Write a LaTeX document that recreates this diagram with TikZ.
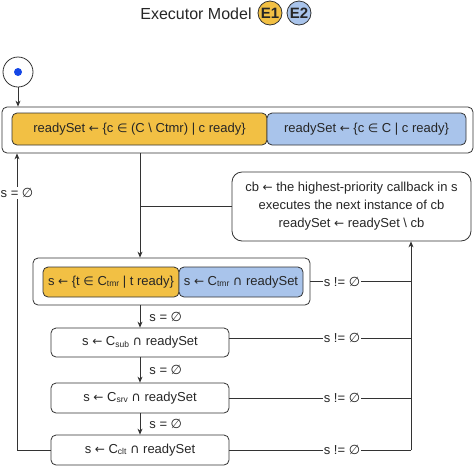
\documentclass[tikz,border=0pt]{standalone}
\usepackage{fontspec}
\setmainfont{Liberation Sans}
\newfontfamily\symf{DejaVu Sans}
\usetikzlibrary{arrows.meta}
\definecolor{yel}{HTML}{F2C044}
\definecolor{blu}{HTML}{A9C4EB}
\definecolor{edge}{HTML}{333333}
\newcommand{\EL}{{\symf\fontsize{12}{14}\selectfont ∈}}
\newcommand{\ES}{{\symf ∅}}
\newcommand{\LA}{{\symf\fontsize{12}{14}\selectfont ←}}
\newcommand{\CAP}{{\symf ∩}}
\newcommand{\sbs}[1]{\raisebox{-0.2ex}{\fontsize{8.5}{9}\selectfont #1}}
\begin{document}
\begin{tikzpicture}[x=1pt,y=-1pt,
  every node/.style={font=\fontsize{13}{15}\selectfont, text=black!85},
  box/.style={draw=edge, line width=0.8pt, rounded corners=5pt, inner sep=0pt, align=center},
  ybox/.style={box, fill=yel},
  bbox/.style={box, fill=blu},
  lbl/.style={fill=white, inner sep=1pt},
  arr/.style={draw=edge, line width=0.8pt, -{Stealth[length=6pt,width=5pt]}},
  ln/.style={draw=edge, line width=0.8pt},
  tag/.style={circle, draw=edge, line width=0.8pt, minimum size=24pt, inner sep=0pt, font=\fontsize{15}{16}\selectfont\bfseries}]
\useasboundingbox (0,0) rectangle (474,467);
% title
\node[font=\fontsize{16}{18}\selectfont] (title) at (196,14) {Executor Model};
\node[tag, fill=yel] (e1) at (270,13) {E1};
\node[tag, fill=blu] (e2) at (299,13) {E2};
% start
\node[circle, draw=edge, line width=0.8pt, minimum size=30pt, inner sep=0pt] (start) at (18,72) {};
\node[circle, fill={rgb,255:red,20;green,70;blue,230}, minimum size=8pt, inner sep=0pt] (dot) at (start.center) {};
% top box
\node[box, minimum width=471pt, minimum height=46pt] (outer) at (237.5,130) {};
\node[ybox, minimum width=255pt, minimum height=32pt] (ry) at (139.5,129) {readySet \LA\ \{c \EL\ (C \textbackslash\ Ctmr) | c ready\}};
\node[bbox, minimum width=199pt, minimum height=32pt] (rb) at (366.5,129) {readySet \LA\ \{c \EL\ C | c ready\}};
% callback box
\node[box, rounded corners=10pt, minimum width=239pt, minimum height=69pt, font=\fontsize{13}{18}\selectfont] (cb) at (351.5,206.5) {cb \LA\ the highest-priority callback in s\\executes the next instance of cb\\readySet \LA\ readySet \textbackslash\ cb};
% timer box
\node[box, minimum width=277pt, minimum height=47pt] (mid) at (171.5,281.5) {};
\node[ybox, minimum width=136pt, minimum height=30pt] (my) at (111,282) {s \LA\ \{t \EL\ C\sbs{tmr} | t ready\}};
\node[bbox, minimum width=124pt, minimum height=30pt] (mb) at (241,282) {s \LA\ C\sbs{tmr} \CAP\ readySet};
% others
\node[box, minimum width=178pt, minimum height=29pt] (sub) at (140,342.5) {s \LA\ C\sbs{sub} \CAP\ readySet};
\node[box, minimum width=178pt, minimum height=30pt] (srv) at (140,398) {s \LA\ C\sbs{srv} \CAP\ readySet};
\node[box, minimum width=178pt, minimum height=30pt] (clt) at (140,450) {s \LA\ C\sbs{clt} \CAP\ readySet};
% helper coordinates
\coordinate (vx) at (140,0);
\coordinate (rx) at (411,0);
\coordinate (lx) at (17,0);
\coordinate (se) at ([yshift=4.5pt]sub.east);
% connectors
\draw[arr] (start.south) -- (start.south |- outer.north);
\draw[arr] (vx |- outer.south) -- (vx |- mid.north);
\draw[ln] (cb.west) -- (cb.west -| vx);
\draw[arr] (mid.south -| vx) -- node[lbl, right=8pt] (l1) {s = \ES} (sub.north);
\draw[arr] (sub.south) -- node[lbl, right=8pt] (l2) {s = \ES} (srv.north);
\draw[arr] (srv.south) -- node[lbl, right=8pt] (l3) {s = \ES} (clt.north);
\draw[ln] (mid.east) -- (rx |- mid.east);
\draw[ln] (se) -- (rx |- se);
\draw[ln] (srv.east) -- (rx |- srv.east);
\draw[ln] (clt.east) -- (rx |- clt.east);
\draw[arr] (rx |- clt.east) -- (rx |- cb.south);
\node[lbl] (n1) at (342,282) {s != \ES};
\node[lbl] (n2) at (342,338) {s != \ES};
\node[lbl] (n3) at (342,398) {s != \ES};
\node[lbl] (n4) at (342,450) {s != \ES};
\draw[arr] (clt.west) -- (lx |- clt.west) -- (lx |- outer.south);
\node[lbl] (n5) at (17,193) {s = \ES};
\end{tikzpicture}
\end{document}
